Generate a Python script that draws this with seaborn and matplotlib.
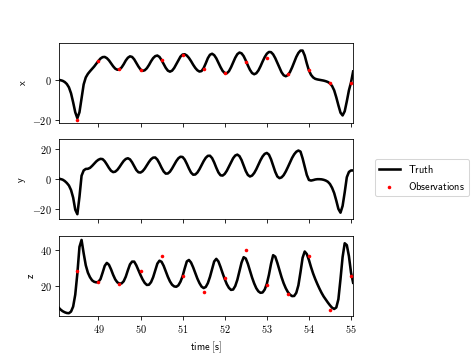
import numpy as np
import matplotlib
matplotlib.use("Agg")
import matplotlib.pyplot as plt
import seaborn as sns
from matplotlib.ticker import FuncFormatter

# LaTeX-like look: cm digits for ticks, cm sans for labels
plt.rcParams['mathtext.fontset'] = 'cm'
plt.rcParams['font.size'] = 10

# time grid, every 0.05 s
t = np.round(np.arange(48.05, 55.06, 0.05), 2)

truth_x = [
    0.3, 0.1, -0.2, -0.8, -1.8, -3.5, -6.5, -11, -16, -19,
    -16, -9, -2, 1.5, 3.3, 4.6, 5.8, 7.0, 8.4, 9.8,
    11.0, 11.7, 11.8, 11.2, 10.1, 8.6, 7.1, 5.9, 5.35, 5.5,
    6.5, 8.1, 10.0, 11.4, 12.1, 11.8, 10.6, 8.8, 7.0, 5.5,
    4.8, 5.1, 6.1, 7.7, 9.6, 11.2, 12.2, 12.5, 11.8, 10.2,
    8.25, 6.3, 4.9, 4.4, 4.9, 6.25, 8.2, 10.2, 12.0, 13.0,
    13.15, 12.5, 11.3, 9.7, 7.9, 6.3, 5.1, 4.45, 4.7, 6.2,
    8.6, 11.2, 12.9, 13.4, 12.7, 11.1, 8.9, 6.7, 4.8, 3.7,
    3.6, 4.6, 6.6, 9.0, 11.4, 13.2, 14.0, 13.6, 12.2, 10.0,
    7.5, 5.3, 3.7, 3.1, 3.6, 5.0, 7.1, 9.5, 11.7, 13.4,
    14.3, 14.2, 13.1, 11.2, 8.8, 6.3, 4.1, 2.6, 2.1, 2.65,
    4.2, 6.5, 9.2, 11.8, 13.8, 15.0, 15.0, 12.5, 8.5, 5.0,
    2.8, 1.5, 0.8, 0.5, 0.3, 0.1, -0.1, -0.4, -0.8, -1.5,
    -2.8, -5, -8.5, -12.5, -16.2, -17.6, -15.5, -10.5, -5, -1.0,
    4.5,
]

truth_y = [
    0.2, -0.2, -0.6, -1.5, -2.8, -4.5, -7.5, -12.5, -20.5, -23.5,
    -12, 2.0, 5.5, 6.5, 6.6, 7.2, 8.5, 10.0, 11.5, 12.6,
    13.2, 13.0, 11.6, 9.5, 7.2, 5.3, 4.4, 4.7, 5.9, 7.75,
    9.85, 11.8, 13.1, 13.6, 12.85, 10.9, 8.3, 5.8, 4.3, 4.1,
    5.0, 6.7, 8.9, 11.1, 12.95, 14.0, 14.1, 12.7, 10.2, 7.3,
    4.8, 3.4, 3.5, 4.7, 6.8, 9.25, 11.7, 13.6, 14.6, 14.4,
    12.7, 9.9, 6.8, 4.1, 2.7, 2.8, 4.1, 6.3, 9.0, 11.7,
    13.9, 15.2, 15.25, 13.7, 10.8, 7.3, 4.2, 2.3, 2.1, 3.2,
    5.3, 8.1, 11.05, 13.6, 15.4, 16.0, 15.0, 12.4, 8.75, 5.1,
    2.5, 1.5, 2.1, 3.8, 6.3, 9.3, 12.3, 14.8, 16.5, 17.1,
    16.0, 12.9, 8.75, 4.6, 1.5, 0.4, 0.9, 2.4, 4.8, 7.7,
    10.8, 13.8, 16.2, 17.9, 18.7, 18.0, 13.5, 8.0, 2.5, -0.8,
    -1.2, -0.9, -0.5, -0.3, -0.3, -0.4, -0.7, -1.2, -2.0, -3.5,
    -6, -9.5, -14.5, -20, -22.5, -18, -9, 1.0, 4.5, 5.5,
    5.5,
]

truth_z = [
    8.6, 7.4, 6.5, 5.9, 5.5, 5.4, 6.3, 9.0, 15.5, 27,
    41.5, 45.3, 38, 31.5, 27.5, 25, 23.3, 22.5, 22.2, 22.5,
    24.0, 27.5, 31.2, 32.8, 31.8, 29.3, 26.3, 23.8, 22.2, 21.6,
    21.6, 22.8, 25.3, 28.8, 32.0, 33.5, 33.5, 31.5, 28.8, 26.2,
    23.8, 21.9, 20.8, 20.9, 22.3, 25.0, 28.8, 32.4, 34.0, 33.4,
    31.2, 28.2, 25.2, 22.7, 20.9, 20.0, 19.8, 20.6, 22.6, 25.6,
    29.8, 33.6, 34.4, 33.0, 30.4, 27.3, 24.3, 21.8, 19.9, 19.1,
    19.7, 21.8, 25.2, 29.5, 33.6, 35.0, 33.6, 30.6, 27.2, 24.0,
    21.2, 19.2, 18.1, 18.3, 20.2, 23.6, 28.2, 33.0, 35.9, 35.2,
    32.3, 28.5, 24.8, 21.6, 19.0, 17.3, 16.5, 16.7, 18.3, 21.4,
    26.3, 32.3, 37.0, 36.2, 32.8, 28.8, 25.0, 21.7, 19.0, 16.9,
    15.5, 14.7, 14.8, 16.5, 20.6, 27.8, 35.6, 39.0, 37.6, 34.4,
    30.5, 27.0, 24.0, 21.3, 18.8, 16.5, 14.5, 12.8, 11.2, 9.7,
    8.4, 7.7, 8.5, 13, 24, 36, 43.5, 42.5, 36.5, 27.5,
    22,
]

# observations every 0.5 s (only x and z observed)
obs_t = [48.5, 49.0, 49.5, 50.0, 50.5, 51.0, 51.5, 52.0, 52.5, 53.0, 53.5, 54.0, 54.5, 55.0]
obs_x = [-19.7, 9.7, 5.5, 5.0, 10.3, 13.0, 5.5, 3.6, 9.2, 11.5, 3.2, 5.0, -1.2, -1.2]
obs_z = [28.3, 22.5, 21.4, 28.3, 36.6, 25.8, 17.1, 24.7, 39.6, 20.7, 15.9, 36.4, 7.4, 25.4]

fig, axes = plt.subplots(3, 1, sharex=True, figsize=(474 / 74, 355 / 74), dpi=74)
fig.subplots_adjust(right=0.745)

panels = [
    ('x', truth_x, obs_x, (-21.4, 19.0)),
    ('y', truth_y, None, (-27.0, 26.3)),
    ('z', truth_z, obs_z, (3.9, 47.7)),
]

tick_fmt = FuncFormatter(lambda v, pos: f'${v:g}$')

for ax, (name, truth, obs, ylim) in zip(axes, panels):
    sns.lineplot(x=t, y=truth, ax=ax, color='black', lw=2.5,
                 estimator=None, sort=False, label=r'$\mathsf{Truth}$', legend=False)
    if obs is not None:
        sns.scatterplot(x=obs_t, y=obs, ax=ax, color='red', s=12, linewidth=0,
                        zorder=3, label=r'$\mathsf{Observations}$', legend=False)
    ax.set_ylim(*ylim)
    ax.set_ylabel(r'$\mathsf{' + name + '}$')
    ax.yaxis.set_major_formatter(tick_fmt)
    ax.xaxis.set_major_formatter(tick_fmt)
    if ax.get_legend() is not None:
        ax.get_legend().remove()

axes[-1].set_xlim(48.07, 55.05)
axes[-1].set_xticks([49, 50, 51, 52, 53, 54, 55])
axes[-1].set_xlabel(r'$\mathsf{time\ [s]}$')

handles, labels = axes[0].get_legend_handles_labels()
fig.legend(handles, labels, loc='center right')

fig.savefig('out.png', dpi=74)
